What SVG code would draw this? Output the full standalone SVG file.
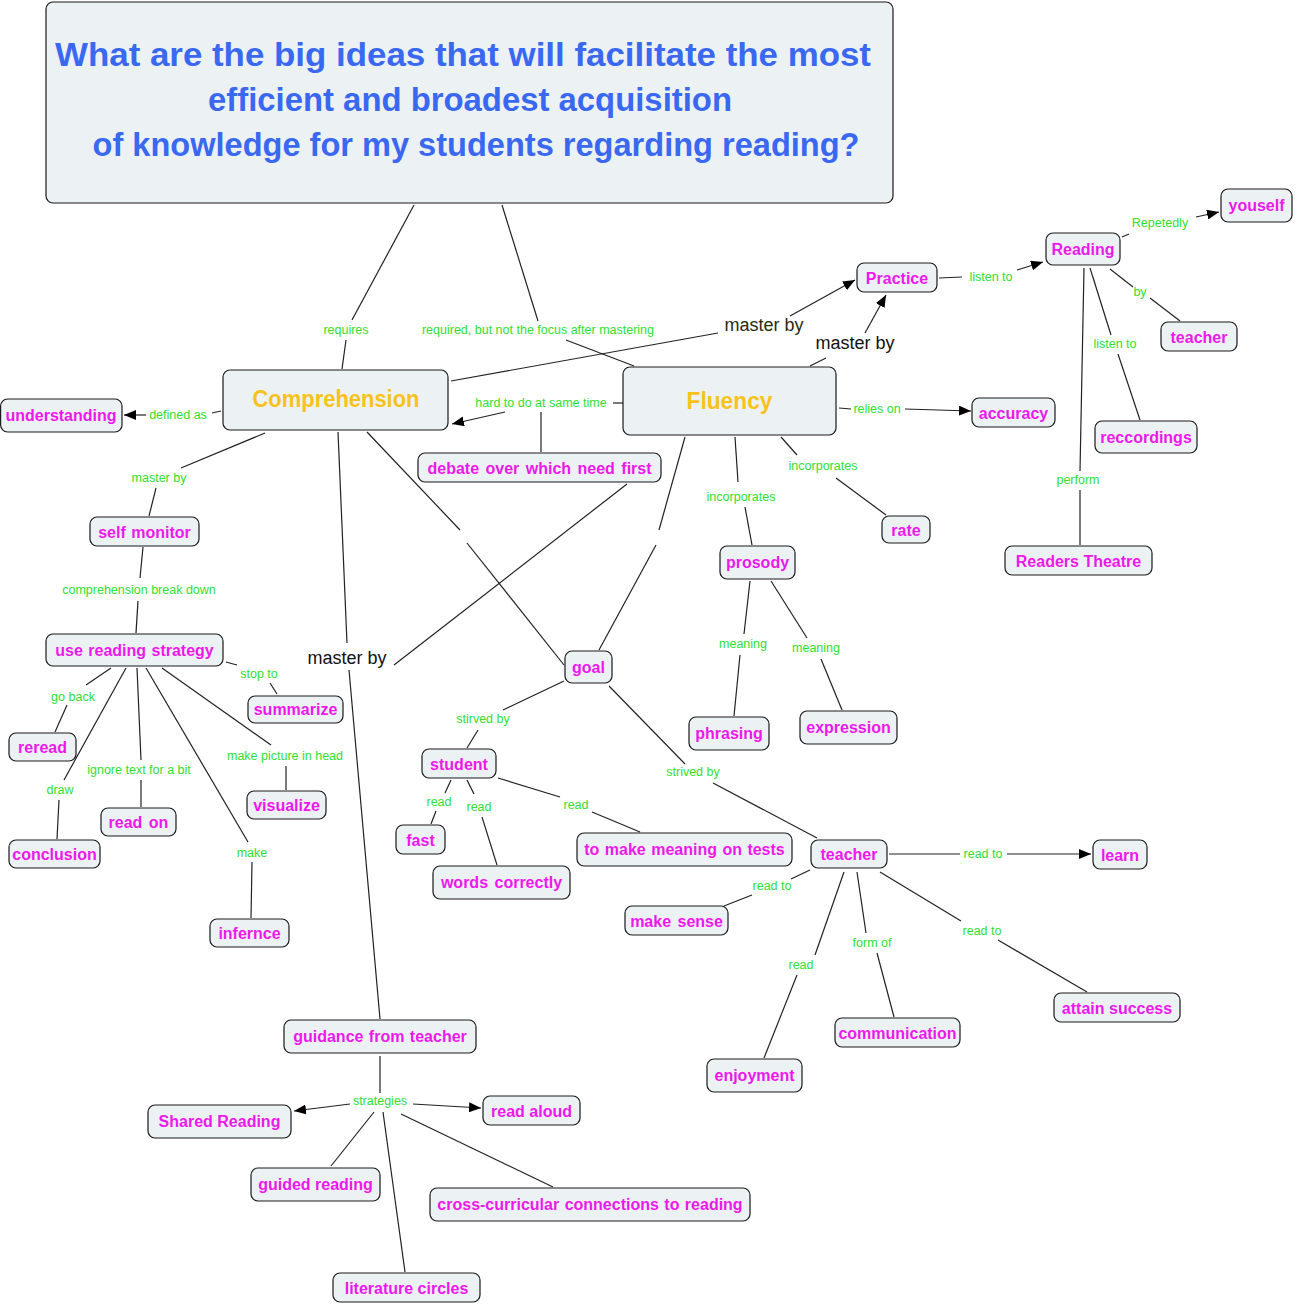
<svg xmlns="http://www.w3.org/2000/svg" width="1295" height="1305" viewBox="0 0 1295 1305">
<style>
.node rect{fill:#ecf2f4;stroke:#1a1a1a;stroke-width:1.2}
.nt{font-family:"Liberation Sans",Arial,sans-serif;font-weight:bold;font-size:16px;fill:#ec18ec;text-anchor:middle}
.main{font-family:"Liberation Sans",Arial,sans-serif;font-weight:bold;font-size:24px;fill:#f8c21c;text-anchor:middle}
.q{font-family:"Liberation Sans",Arial,sans-serif;font-weight:bold;font-size:34px;fill:#3a68f0;text-anchor:middle}
.lbl{font-family:"Liberation Sans",Arial,sans-serif;font-size:12.5px;fill:#2fe02f;text-anchor:middle}
.big{font-family:"Liberation Sans",Arial,sans-serif;font-size:18px;fill:#111;text-anchor:middle}
#connectors line{stroke:#222;stroke-width:1.2;fill:none}
#connectors line.arr{marker-end:url(#ah)}
</style>
<defs>
<marker id="ah" viewBox="0 0 12 10" refX="12" refY="5" markerWidth="12" markerHeight="10" markerUnits="userSpaceOnUse" orient="auto">
<path d="M0,0 L12,5 L0,10 z" fill="#000"/>
</marker>
</defs>
<rect width="1295" height="1305" fill="#fff"/>

<g id="connectors">
<line x1="414" y1="205" x2="352" y2="320"/><line x1="346" y1="340" x2="342" y2="369"/>
<line x1="502" y1="205" x2="538" y2="321"/><line x1="566" y1="340" x2="634" y2="366"/>
<line x1="451" y1="381" x2="718" y2="333"/><line class="arr" x1="790" y1="316" x2="855" y2="280"/>
<line x1="810" y1="366" x2="826" y2="358"/><line class="arr" x1="865" y1="333" x2="886" y2="295"/>
<line x1="623" y1="403" x2="613" y2="403"/><line class="arr" x1="505" y1="412" x2="452" y2="424"/><line x1="541" y1="412" x2="541" y2="452"/>
<line x1="221" y1="411" x2="212" y2="413"/><line class="arr" x1="146" y1="415" x2="124" y2="415"/>
<line x1="839" y1="408" x2="851" y2="409"/><line class="arr" x1="905" y1="409" x2="971" y2="411"/>
<line x1="781" y1="437" x2="797" y2="455"/><line x1="836" y1="478" x2="886" y2="515"/>
<line x1="735" y1="437" x2="738" y2="482"/><line x1="745" y1="507" x2="752" y2="545"/>
<line x1="750" y1="581" x2="744" y2="634"/><line x1="740" y1="655" x2="734" y2="716"/>
<line x1="771" y1="581" x2="807" y2="638"/><line x1="821" y1="659" x2="842" y2="710"/>
<line x1="685" y1="437" x2="659" y2="530"/><line x1="656" y1="545" x2="599" y2="650"/>
<line x1="367" y1="432" x2="460" y2="530"/><line x1="467" y1="543" x2="564" y2="665"/>
<line x1="627" y1="484" x2="394" y2="665"/>
<line x1="338" y1="432" x2="347" y2="643"/><line x1="349" y1="670" x2="380" y2="1019"/>
<line x1="265" y1="433" x2="181" y2="468"/><line x1="156" y1="488" x2="149" y2="516"/>
<line x1="143" y1="547" x2="140" y2="578"/><line x1="138" y1="601" x2="136" y2="633"/>
<line x1="226" y1="662" x2="237" y2="665"/><line x1="270" y1="683" x2="277" y2="694"/>
<line x1="111" y1="668" x2="86" y2="685"/><line x1="67" y1="705" x2="55" y2="732"/>
<line x1="126" y1="668" x2="64" y2="780"/><line x1="59" y1="800" x2="57" y2="839"/>
<line x1="137" y1="668" x2="141" y2="760"/><line x1="141" y1="780" x2="141" y2="807"/>
<line x1="146" y1="668" x2="248" y2="842"/><line x1="252" y1="862" x2="251" y2="918"/>
<line x1="162" y1="668" x2="271" y2="745"/><line x1="286" y1="766" x2="286" y2="790"/>
<line x1="564" y1="681" x2="503" y2="710"/><line x1="478" y1="730" x2="467" y2="748"/>
<line x1="609" y1="686" x2="685" y2="764"/><line x1="713" y1="783" x2="817" y2="838"/>
<line x1="451" y1="780" x2="445" y2="793"/><line x1="436" y1="811" x2="431" y2="824"/>
<line x1="467" y1="780" x2="474" y2="794"/><line x1="482" y1="817" x2="497" y2="865"/>
<line x1="498" y1="778" x2="560" y2="797"/><line x1="592" y1="812" x2="640" y2="832"/>
<line x1="889" y1="854" x2="960" y2="854"/><line class="arr" x1="1007" y1="854" x2="1091" y2="854"/>
<line x1="810" y1="870" x2="791" y2="879"/><line x1="752" y1="895" x2="724" y2="906"/>
<line x1="844" y1="872" x2="815" y2="955"/><line x1="797" y1="975" x2="764" y2="1058"/>
<line x1="857" y1="872" x2="866" y2="933"/><line x1="877" y1="953" x2="894" y2="1017"/>
<line x1="880" y1="872" x2="961" y2="921"/><line x1="998" y1="940" x2="1087" y2="992"/>
<line x1="939" y1="278" x2="962" y2="277"/><line class="arr" x1="1017" y1="270" x2="1043" y2="262"/>
<line x1="1122" y1="237" x2="1129" y2="234"/><line class="arr" x1="1196" y1="217" x2="1219" y2="212"/>
<line x1="1110" y1="269" x2="1133" y2="287"/><line x1="1150" y1="298" x2="1180" y2="321"/>
<line x1="1090" y1="268" x2="1111" y2="335"/><line x1="1118" y1="354" x2="1140" y2="420"/>
<line x1="1084" y1="268" x2="1080" y2="471"/><line x1="1080" y1="490" x2="1080" y2="545"/>
<line x1="380" y1="1056" x2="380" y2="1093"/>
<line class="arr" x1="350" y1="1104" x2="294" y2="1111"/><line class="arr" x1="413" y1="1104" x2="481" y2="1108"/>
<line x1="374" y1="1112" x2="331" y2="1166"/><line x1="383" y1="1112" x2="405" y2="1272"/><line x1="401" y1="1114" x2="553" y2="1187"/>
<text class="lbl" x="346" y="334">requires</text>
<text class="lbl" x="538" y="334">required, but not the focus after mastering</text>
<text class="big" x="764" y="331" style="fill:#2b2a10">master by</text>
<text class="big" x="855" y="349">master by</text>
<text class="big" x="347" y="664">master by</text>
<text class="lbl" x="541" y="407">hard to do at same time</text>
<text class="lbl" x="178" y="419">defined as</text>
<text class="lbl" x="877" y="413">relies on</text>
<text class="lbl" x="823" y="470">incorporates</text>
<text class="lbl" x="741" y="501">incorporates</text>
<text class="lbl" x="743" y="648">meaning</text>
<text class="lbl" x="816" y="652">meaning</text>
<text class="lbl" x="159" y="482">master by</text>
<text class="lbl" x="139" y="594">comprehension break down</text>
<text class="lbl" x="259" y="678">stop to</text>
<text class="lbl" x="73" y="701">go back</text>
<text class="lbl" x="60" y="794">draw</text>
<text class="lbl" x="139" y="774">ignore text for a bit</text>
<text class="lbl" x="252" y="857">make</text>
<text class="lbl" x="285" y="760">make picture in head</text>
<text class="lbl" x="483" y="723">stirved by</text>
<text class="lbl" x="693" y="776">strived by</text>
<text class="lbl" x="439" y="806">read</text>
<text class="lbl" x="479" y="811">read</text>
<text class="lbl" x="576" y="809">read</text>
<text class="lbl" x="983" y="858">read to</text>
<text class="lbl" x="772" y="890">read to</text>
<text class="lbl" x="801" y="969">read</text>
<text class="lbl" x="872" y="947">form of</text>
<text class="lbl" x="982" y="935">read to</text>
<text class="lbl" x="991" y="281">listen to</text>
<text class="lbl" x="1160" y="227">Repetedly</text>
<text class="lbl" x="1140" y="296">by</text>
<text class="lbl" x="1115" y="348">listen to</text>
<text class="lbl" x="1078" y="484">perform</text>
<text class="lbl" x="380" y="1105">strategies</text>
</g>

<g id="n-question" class="node"><rect x="46" y="2" width="847" height="201" rx="7"/>
<text class="q" x="463" y="66" textLength="816" lengthAdjust="spacingAndGlyphs">What are the big ideas that will facilitate the most</text>
<text class="q" x="470" y="111" textLength="524" lengthAdjust="spacingAndGlyphs">efficient and broadest acquisition</text>
<text class="q" x="476" y="156" textLength="767" lengthAdjust="spacingAndGlyphs">of knowledge for my students regarding reading?</text></g>
<g id="n-comprehension" class="node"><rect x="223" y="370" width="225" height="60" rx="7"/><text class="main" x="336" y="407" textLength="167" lengthAdjust="spacingAndGlyphs">Comprehension</text></g>
<g id="n-fluency" class="node"><rect x="623" y="367" width="213" height="68" rx="7"/><text class="main" x="729.5" y="409" textLength="86" lengthAdjust="spacingAndGlyphs">Fluency</text></g>
<g id="n-understanding" class="node"><rect x="0.6" y="399" width="121.4" height="33" rx="7"/><text class="nt" x="61" y="421">understanding</text></g>
<g id="n-practice" class="node"><rect x="857" y="263" width="80" height="29" rx="7"/><text class="nt" x="897" y="283.5">Practice</text></g>
<g id="n-reading" class="node"><rect x="1046" y="233" width="74" height="32" rx="7"/><text class="nt" x="1083" y="255">Reading</text></g>
<g id="n-youself" class="node"><rect x="1221" y="189" width="71" height="33" rx="7"/><text class="nt" x="1256.5" y="211">youself</text></g>
<g id="n-teacher1" class="node"><rect x="1161" y="322" width="76" height="29" rx="7"/><text class="nt" x="1199" y="342.5">teacher</text></g>
<g id="n-accuracy" class="node"><rect x="972" y="398" width="83" height="29" rx="7"/><text class="nt" x="1013.5" y="418.5">accuracy</text></g>
<g id="n-reccordings" class="node"><rect x="1095" y="421" width="102" height="32" rx="7"/><text class="nt" x="1146" y="443">reccordings</text></g>
<g id="n-rate" class="node"><rect x="882" y="516" width="48" height="27" rx="7"/><text class="nt" x="906" y="535.5">rate</text></g>
<g id="n-readers" class="node"><rect x="1005" y="546" width="147" height="29" rx="7"/><text class="nt" x="1078.5" y="566.5">Readers Theatre</text></g>
<g id="n-debate" class="node"><rect x="418" y="453" width="243" height="29" rx="7"/><text class="nt" x="539.5" y="473.5" word-spacing="2">debate over which need first</text></g>
<g id="n-selfmonitor" class="node"><rect x="90" y="517" width="109" height="29" rx="7"/><text class="nt" x="144.5" y="537.5" word-spacing="1">self monitor</text></g>
<g id="n-usereading" class="node"><rect x="46" y="634" width="177" height="32" rx="7"/><text class="nt" x="134.5" y="656" word-spacing="1">use reading strategy</text></g>
<g id="n-summarize" class="node"><rect x="248" y="696" width="95" height="27" rx="7"/><text class="nt" x="295.5" y="715">summarize</text></g>
<g id="n-reread" class="node"><rect x="9" y="733" width="67" height="28" rx="7"/><text class="nt" x="42.5" y="752.5">reread</text></g>
<g id="n-visualize" class="node"><rect x="247" y="791" width="79" height="28" rx="7"/><text class="nt" x="286.5" y="810.5">visualize</text></g>
<g id="n-readon" class="node"><rect x="101" y="808" width="75" height="28" rx="7"/><text class="nt" x="138.5" y="827.5" word-spacing="2">read on</text></g>
<g id="n-conclusion" class="node"><rect x="9" y="840" width="91" height="28" rx="7"/><text class="nt" x="54.5" y="859.5">conclusion</text></g>
<g id="n-infernce" class="node"><rect x="210" y="919" width="79" height="28" rx="7"/><text class="nt" x="249.5" y="938.5">infernce</text></g>
<g id="n-goal" class="node"><rect x="565" y="651" width="47" height="32" rx="7"/><text class="nt" x="588.5" y="673">goal</text></g>
<g id="n-prosody" class="node"><rect x="720" y="546" width="75" height="33" rx="7"/><text class="nt" x="757.5" y="568">prosody</text></g>
<g id="n-phrasing" class="node"><rect x="689" y="717" width="80" height="33" rx="7"/><text class="nt" x="729" y="739">phrasing</text></g>
<g id="n-expression" class="node"><rect x="800" y="711" width="97" height="33" rx="7"/><text class="nt" x="848.5" y="733">expression</text></g>
<g id="n-student" class="node"><rect x="422" y="749" width="74" height="29" rx="7"/><text class="nt" x="459" y="769.5">student</text></g>
<g id="n-fast" class="node"><rect x="396" y="825" width="49" height="29" rx="7"/><text class="nt" x="420.5" y="845.5">fast</text></g>
<g id="n-words" class="node"><rect x="433" y="866" width="137" height="33" rx="7"/><text class="nt" x="501.5" y="888" word-spacing="2">words correctly</text></g>
<g id="n-meaning" class="node"><rect x="577" y="833" width="215" height="33" rx="7"/><text class="nt" x="684.5" y="855" word-spacing="1">to make meaning on tests</text></g>
<g id="n-teacher2" class="node"><rect x="811" y="840" width="76" height="28" rx="7"/><text class="nt" x="849" y="859.5">teacher</text></g>
<g id="n-learn" class="node"><rect x="1093" y="840" width="54" height="29" rx="7"/><text class="nt" x="1120" y="860.5">learn</text></g>
<g id="n-makesense" class="node"><rect x="625" y="906" width="103" height="29" rx="7"/><text class="nt" x="676.5" y="926.5" word-spacing="2">make sense</text></g>
<g id="n-attain" class="node"><rect x="1054" y="993" width="126" height="29" rx="7"/><text class="nt" x="1117" y="1013.5">attain success</text></g>
<g id="n-communication" class="node"><rect x="835" y="1018" width="125" height="29" rx="7"/><text class="nt" x="897.5" y="1038.5">communication</text></g>
<g id="n-enjoyment" class="node"><rect x="707" y="1059" width="95" height="33" rx="7"/><text class="nt" x="754.5" y="1081">enjoyment</text></g>
<g id="n-guidance" class="node"><rect x="284" y="1020" width="192" height="33" rx="7"/><text class="nt" x="380" y="1042" word-spacing="1">guidance from teacher</text></g>
<g id="n-shared" class="node"><rect x="148" y="1105" width="143" height="33" rx="7"/><text class="nt" x="219.5" y="1127">Shared Reading</text></g>
<g id="n-readaloud" class="node"><rect x="483" y="1096" width="97" height="29" rx="7"/><text class="nt" x="531.5" y="1116.5">read aloud</text></g>
<g id="n-guided" class="node"><rect x="251" y="1168" width="129" height="33" rx="7"/><text class="nt" x="315.5" y="1190">guided reading</text></g>
<g id="n-cross" class="node"><rect x="430" y="1188" width="320" height="33" rx="7"/><text class="nt" x="590" y="1210" word-spacing="1">cross-curricular connections to reading</text></g>
<g id="n-literature" class="node"><rect x="333" y="1273" width="147" height="29" rx="7"/><text class="nt" x="406.5" y="1293.5">literature circles</text></g>
</svg>
